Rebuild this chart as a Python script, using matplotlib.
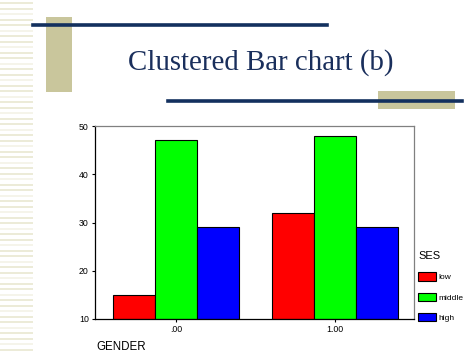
import matplotlib
matplotlib.use("Agg")
import matplotlib.pyplot as plt
import numpy as np
from matplotlib.patches import Rectangle
from matplotlib.lines import Line2D

categories = [".00", "1.00"]
series_names = ["low", "middle", "high"]
low = [15, 32]
middle = [47, 48]
high = [29, 29]
yticks = [10, 20, 30, 40, 50]

W, H = 474, 355
fig = plt.figure(figsize=(W / 100, H / 100), dpi=100)
fig.patch.set_facecolor("white")

# decoration layer in pixel coords
deco = fig.add_axes([0, 0, 1, 1], zorder=0)
deco.set_xlim(0, W)
deco.set_ylim(H, 0)
deco.axis("off")
# left stripes
for i, y in enumerate(np.arange(2, 352, 5.5)):
    c = "#ecebd8" if i % 3 != 2 else "#f5f4ea"
    deco.add_patch(Rectangle((0, y), 33, 2.0, color=c, lw=0))
navy = "#13305e"
khaki = "#c9c69c"
deco.add_patch(Rectangle((46, 17), 26, 75, color=khaki, lw=0))
deco.add_patch(Rectangle((378, 91), 77, 18, color=khaki, lw=0))
deco.add_line(Line2D([33, 327], [25, 25], color=navy, lw=2.6))
deco.add_line(Line2D([168, 462], [101, 101], color=navy, lw=2.6))
deco.text(261, 63, "Clustered Bar chart (b)", ha="center", va="center",
          fontsize=20.8, family="Liberation Serif", color="#1a2f5c")

ax = fig.add_axes([95 / W, 1 - 319 / H, (414 - 95) / W, (319 - 126) / H], zorder=1)
x = np.arange(len(categories))
bw = 0.265
cols = ["#ff0000", "#00ff00", "#0000ff"]
for k, (vals, name, c) in enumerate(zip([low, middle, high], series_names, cols)):
    ax.bar(x + (k - 1) * bw, np.array(vals) - 10, bw, bottom=10, color=c,
           edgecolor="black", linewidth=0.8, label=name)

ax.set_ylim(10, 50)
ax.set_xlim(-0.51, 1.5)
ax.set_yticks(yticks)
ax.set_xticks(x)
ax.set_xticklabels(categories)
for s in ["top", "right"]:
    ax.spines[s].set_color("#808080")
for s in ["left", "bottom"]:
    ax.spines[s].set_color("black")
for s in ax.spines.values():
    s.set_linewidth(0.9)
ax.tick_params(axis="both", labelsize=6.3, length=2.5, width=0.8, pad=2)
for t in ax.get_yticklabels() + ax.get_xticklabels():
    t.set_family("Liberation Sans")

fig.text(96 / W, 1 - 347 / H, "GENDER", ha="left", va="center",
         fontsize=8.3, family="Liberation Sans")

leg = ax.legend(title="SES", loc="upper left",
                bbox_to_anchor=(418 / W, 1 - 251 / H),
                bbox_transform=fig.transFigure, frameon=False,
                prop={"family": "Liberation Sans", "size": 6},
                handlelength=2.2, handleheight=1.2, handletextpad=0.3,
                labelspacing=1.35, borderaxespad=0, borderpad=0)
leg.get_title().set_fontsize(8)
leg.get_title().set_family("Liberation Sans")
leg._legend_box.align = "left"

fig.savefig("out.png", dpi=100)
